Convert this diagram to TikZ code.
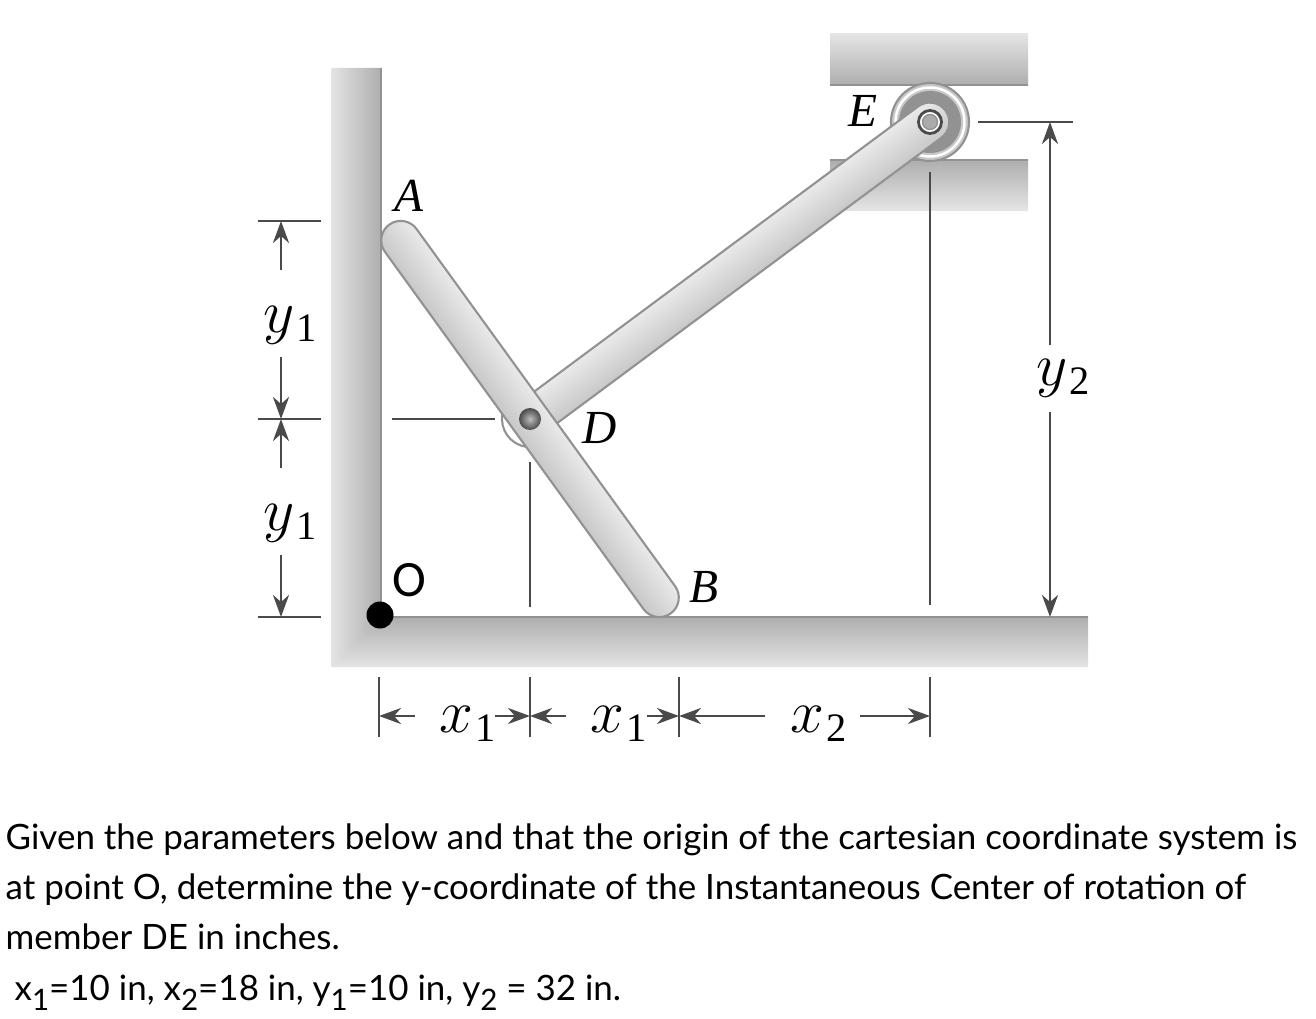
\documentclass[tikz,border=0pt]{standalone}
\usepackage{fontspec}
\setmainfont{Lato}
\newfontfamily\dimfont{Liberation Serif}
\newfontfamily\pointfont{Carlito}
\usepackage{amssymb,amsmath}
\usetikzlibrary{arrows.meta}
\definecolor{dimgray}{HTML}{4A4A4A}
\definecolor{edgegray}{HTML}{929292}
\definecolor{barlight}{HTML}{EAEAEA}
\definecolor{bardark}{HTML}{C8C8C8}
\definecolor{steellight}{HTML}{E4E4E4}
\definecolor{steeldark}{HTML}{AEAEAE}
\newcommand{\lowsub}[1]{\raisebox{-0.3em}{\fontsize{8.4}{8.4}\selectfont #1}}
\newcommand{\dimsym}[2]{$#1$\raisebox{-2.8pt}{\dimfont\fontsize{11.5}{11.5}\selectfont\kern0.6pt #2}}
\tikzset{
  dimline/.style={draw=dimgray, line width=0.8pt},
  dimarrow/.style={dimline, -{Stealth[length=0.22cm,width=0.16cm,inset=0.07cm]}},
  barbody/.style={rounded corners=0.195cm, top color=barlight, bottom color=bardark},
  baredge/.style={draw=edgegray, line width=0.6pt, rounded corners=0.195cm},
  dimtext/.style={anchor=base west, inner sep=0pt, font=\fontsize{17}{17}\selectfont},
  pointtext/.style={inner sep=0pt, font=\dimfont\itshape\fontsize{13.5}{14}\selectfont},
  bodytext/.style={anchor=base west, inner sep=0pt, font=\fontsize{9.94}{12}\selectfont}
}
\begin{document}
\begin{tikzpicture}
\useasboundingbox (0,0) rectangle (13.16,10.18);

%Wall & Floor
\shade [left color=steellight, right color=steeldark] (3.31,9.50) -- (3.81,9.50) -- (3.81,4.01) -- (3.31,3.51) -- cycle;
\shade [top color=steeldark, bottom color=steellight] (3.31,3.51) -- (3.81,4.01) -- (10.88,4.01) -- (10.88,3.51) -- cycle;
\draw [edgegray, line width=0.8pt] (3.81,9.50) -- (3.81,4.01) -- (10.88,4.01);

%Guide Blocks
\shade [top color=steellight, bottom color=steeldark] (8.30,9.33) rectangle (10.28,9.84);
\draw [edgegray, line width=0.8pt] (8.30,9.33) -- (10.28,9.33);
\shade [top color=steeldark, bottom color=steellight] (8.30,8.08) rectangle (10.28,8.58);
\draw [edgegray, line width=0.8pt] (8.30,8.58) -- (10.28,8.58);

%Roller E
\filldraw [draw=edgegray, fill=bardark, line width=0.6pt] (9.30,8.96) circle (0.39);
\draw [white, line width=0.7pt] (9.30,8.96) circle (0.345);
\fill [edgegray] (9.30,8.96) circle (0.31);

%Member DE
\begin{scope}[transform canvas={shift={(5.30,5.99)},rotate=36.6}]
\shade [barbody] (0,-0.195) rectangle (5.175,0.195);
\draw [baredge] (0,-0.195) rectangle (5.175,0.195);
\end{scope}

%Pin E
\filldraw [draw=dimgray, fill=white, line width=0.8pt] (9.30,8.96) circle (0.115);
\filldraw [draw=edgegray, fill=bardark!85!black, line width=0.4pt] (9.30,8.96) circle (0.075);

%Roller D
\draw [edgegray, line width=0.6pt] (5.30,5.99) ++(170:0.28) arc (170:290:0.28);

%Member AB
\begin{scope}[transform canvas={shift={(5.30,5.99)},rotate=-54.1}]
\shade [barbody] (-2.40,-0.195) rectangle (2.40,0.195);
\draw [baredge] (-2.40,-0.195) rectangle (2.40,0.195);
\end{scope}

%Pin D
\shade [inner color=edgegray!60, outer color=dimgray] (5.30,5.99) circle (0.11);

%Point O
\fill [black] (3.80,4.03) circle (0.135);
\node [inner sep=0pt, font=\pointfont\fontsize{14.5}{15}\selectfont] (labelO) at (4.09,4.38) {O};

%Point Labels
\foreach \name/\x/\y/\ptext in {labelA/4.09/8.22/A,labelB/7.04/4.31/B,labelD/6.00/5.90/D,labelE/8.63/9.07/E}
	\node [pointtext] (\name) at (\x,\y) {\ptext};

%Extension Lines
\draw [dimline] (2.58,7.97) -- (3.21,7.97);
\draw [dimline] (2.58,5.99) -- (3.21,5.99);
\draw [dimline] (2.58,4.01) -- (3.21,4.01);
\draw [dimline] (3.92,5.99) -- (4.95,5.99);
\draw [dimline] (5.30,5.56) -- (5.30,4.11);
\draw [dimline] (9.30,8.46) -- (9.30,4.13);
\draw [dimline] (9.78,8.96) -- (10.73,8.96);
\foreach \x in {3.79,5.30,6.79,9.30}
	\draw [dimline] (\x,3.41) -- (\x,2.81);

%Dimensions y
\draw [dimarrow] (2.81,7.48) -- (2.81,7.97);
\draw [dimarrow] (2.81,6.61) -- (2.81,5.99);
\draw [dimarrow] (2.81,5.50) -- (2.81,5.99);
\draw [dimarrow] (2.81,4.63) -- (2.81,4.01);
\draw [dimarrow] (10.50,6.73) -- (10.50,8.96);
\draw [dimarrow] (10.50,6.06) -- (10.50,4.01);

%Dimensions x
\draw [dimarrow] (4.15,3.02) -- (3.79,3.02);
\draw [dimarrow] (4.95,3.02) -- (5.30,3.02);
\draw [dimarrow] (5.66,3.02) -- (5.30,3.02);
\draw [dimarrow] (6.47,3.02) -- (6.79,3.02);
\draw [dimarrow] (7.65,3.02) -- (6.79,3.02);
\draw [dimarrow] (8.60,3.02) -- (9.30,3.02);

%Dimension Labels
\foreach \name/\x/\y/\sym/\idx in {labelYa/2.63/6.86/y/1,labelYb/2.63/4.88/y/1,labelYc/10.36/6.33/y/2,labelXa/4.39/2.86/x/1,labelXb/5.90/2.86/x/1,labelXc/7.90/2.86/x/2}
	\node [dimtext] (\name) at (\x,\y) {\dimsym{\sym}{\idx}};

%Problem Statement
\node [bodytext] (lineA) at (0.05,1.69) {Given the parameters below and that the origin of the cartesian coordinate system is};
\node [bodytext] (lineB) at (0.05,1.19) {at point O, determine the y-coordinate of the Instantaneous Center of rotation of};
\node [bodytext] (lineC) at (0.05,0.69) {member DE in inches.};
\node [bodytext] (lineD) at (0.14,0.18) {x\lowsub{1}=10 in, x\lowsub{2}=18 in, y\lowsub{1}=10 in, y\lowsub{2} = 32 in.};
\end{tikzpicture}
\end{document}
